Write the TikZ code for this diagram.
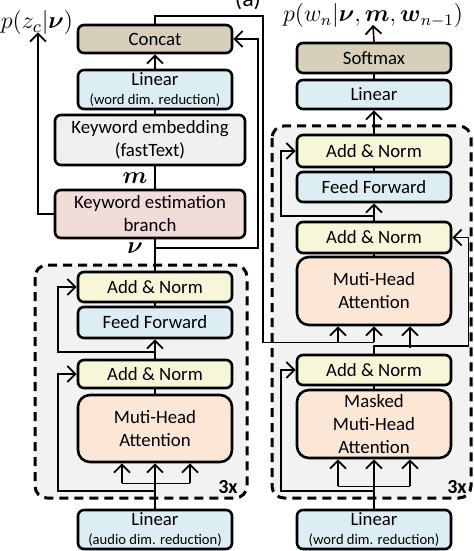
\documentclass[tikz,border=0pt]{standalone}
\usepackage{amsmath}
\usepackage{amssymb}
\usepackage{fontspec}
\setmainfont{Carlito}
\usepackage{tikz}
\usetikzlibrary{calc}
\usetikzlibrary{positioning}
\usetikzlibrary{arrows.meta}

\definecolor{ccat}{HTML}{D8CFBA}
\definecolor{clin}{HTML}{DCEEF4}
\definecolor{cgrey}{HTML}{F0F0F0}
\definecolor{cpink}{HTML}{F2DCDA}
\definecolor{cnorm}{HTML}{F8F6D9}
\definecolor{catt}{HTML}{FCE6D6}
\definecolor{cback}{HTML}{F2F2F2}

\newcommand{\dimtext}[1]{{\fontsize{7.3}{8}\selectfont #1}}

\begin{document}
\begin{tikzpicture}[x=0.5pt, y=-0.5pt,
        box/.style={rectangle, draw=black, line width=1.3pt, rounded corners=3pt, minimum width=77pt, align=center, inner sep=0pt, font=\fontsize{9.4}{11.5}\selectfont},
        arr/.style={-{Straight Barb[length=4pt, width=8pt, line width=0.9pt]}, line width=0.8pt},
        con/.style={line width=0.8pt},
        lbl/.style={inner sep=0pt},
        stack/.style={draw=black, line width=1.5pt, dash pattern=on 4.5pt off 3pt, rounded corners=6pt, fill=cback}]
        \useasboundingbox (0,0) rectangle (474,551);
        % dashed stacks
        \draw[stack] (35,265) rectangle (247,498);
        \draw[stack] (272,126) rectangle (471,498);
        \node[font=\bfseries] (nL) at (228,487) {3x};
        \node[font=\bfseries] (nR) at (457,487) {3x};

        % encoder side
        \node[box, fill=ccat, minimum height=14pt] (concat) at (155,39) {Concat};
        \node[box, fill=clin, minimum height=19.5pt] (linK) at (155,89.5) {Linear\\[-2pt]\dimtext{(word dim. reduction)}};
        \node[box, fill=cgrey, minimum width=95pt, minimum height=25pt] (kwemb) at (150,140) {Keyword embedding\\(fastText)};
        \node[box, fill=cpink, minimum width=95pt, minimum height=24pt] (kwest) at (150,214) {Keyword estimation\\branch};
        \node[box, fill=cnorm, minimum height=15pt] (anL1) at (155,287) {Add \& Norm};
        \node[box, fill=clin, minimum height=15.5pt] (ffL) at (155,322.5) {Feed Forward};
        \node[box, fill=cnorm, minimum height=14pt] (anL2) at (155,374) {Add \& Norm};
        \node[box, fill=catt, minimum height=33.5pt, rounded corners=6pt] (mhaL) at (155,428.5) {Muti-Head\\Attention};
        \node[box, fill=clin, minimum height=19.5pt] (linA) at (155,529.5) {Linear\\[-2pt]\dimtext{(audio dim. reduction)}};

        \node[lbl, font=\fontsize{12.8}{14}\selectfont] (pz) at (37,23) {$p(z_c|\boldsymbol{\nu})$};
        \node[lbl, font=\large] (lm) at (135,178) {$\boldsymbol{m}$};
        \node[lbl, font=\large] (lnu) at (135,248) {$\boldsymbol{\nu}$};
        \node[font=\large] (tag) at (248,-1) {(a)};

        % decoder side
        \node[lbl, font=\large] (pw) at (373,15.5) {$p(w_n|\boldsymbol{\nu},\boldsymbol{m},\boldsymbol{w}_{n-1})$};
        \node[box, fill=ccat, minimum height=15pt] (soft) at (374,58) {Softmax};
        \node[box, fill=clin, minimum height=14.5pt] (linR) at (374,94.5) {Linear};
        \node[box, fill=cnorm, minimum height=16pt] (anR1) at (374,151) {Add \& Norm};
        \node[box, fill=clin, minimum height=15pt] (ffR) at (374,187) {Feed Forward};
        \node[box, fill=cnorm, minimum height=15.5pt] (anR2) at (374,237.5) {Add \& Norm};
        \node[box, fill=catt, minimum height=34pt, rounded corners=6pt] (mhaR) at (374,291) {Muti-Head\\Attention};
        \node[box, fill=cnorm, minimum height=15pt] (anR3) at (374,370) {Add \& Norm};
        \node[box, fill=catt, minimum height=34pt, rounded corners=6pt] (mmhaR) at (374,424) {Masked\\Muti-Head\\Attention};
        \node[box, fill=clin, minimum height=19.5pt] (linW) at (374,529.5) {Linear\\[-2pt]\dimtext{(word dim. reduction)}};

        % encoder connectors
        \draw[arr] (linA.north) -- (mhaL.south);
        \draw[con] ($(mhaL.south)+(-33,20)$) -- ($(mhaL.south)+(35,20)$);
        \foreach \dx in {-33,35}
        {
            \draw[arr] ($(mhaL.south)+(\dx,20)$) -- ($(mhaL.south)+(\dx,0)$);
        }
        \draw[arr] ($(linA.north)+(0,-18)$) -| ($(anL2.west)+(-19,0)$) -- (anL2.west);
        \draw[con] (mhaL.north) -- (anL2.south);
        \draw[arr] (anL2.north) -- (ffL.south);
        \draw[arr] ($(anL2.north)+(0,-7)$) -| ($(anL1.west)+(-19,0)$) -- (anL1.west);
        \draw[con] (ffL.north) -- (anL1.south);
        \draw[con] (anL1.north) -- (anL1.north |- kwest.south);
        \draw[con] (concat |- kwest.north) -- (concat |- kwemb.south);
        \draw[con] (concat |- kwemb.north) -- (linK.south);
        \draw[arr] (linK.north) -- (concat.south);
        \draw[arr] (kwest.west) -| ($(pz.south)+(1,-3)$);
        \coordinate (nu) at (155,248);
        \draw[arr] (nu) -- (258,248) |- (concat.east);

        % decoder connectors
        \draw[arr] (linW.north) -- (mmhaR.south);
        \draw[con] ($(mmhaR.south)+(-36,27)$) -- ($(mmhaR.south)+(36,27)$);
        \foreach \dx in {-36,36}
        {
            \draw[arr] ($(mmhaR.south)+(\dx,27)$) -- ($(mmhaR.south)+(\dx,0)$);
        }
        \draw[arr] ($(linW.north)+(0,-18)$) -| ($(anR3.west)+(-15,0)$) -- (anR3.west);
        \draw[con] (mmhaR.north) -- (anR3.south);
        \draw[con] (concat.north) |- (263,16) |- ($(mhaR.south)+(0,16)$);
        \foreach \dx in {-36,0}
        {
            \draw[arr] ($(mhaR.south)+(\dx,16)$) -- ($(mhaR.south)+(\dx,0)$);
        }
        \draw[arr] (anR3.north) -- ++(0,-8) -| ($(anR2.east)+(16,0)$) -- (anR2.east);
        \draw[arr] ($(mhaR.south)+(36,22)$) -- ($(mhaR.south)+(36,0)$);
        \draw[con] (mhaR.north) -- (anR2.south);
        \draw[arr] (anR2.north) -- (ffR.south);
        \draw[arr] ($(anR2.north)+(0,-5)$) -| ($(anR1.west)+(-15,0)$) -- (anR1.west);
        \draw[con] (ffR.north) -- (anR1.south);
        \draw[arr] (anR1.north) -- (linR.south);
        \draw[con] (linR.north) -- (soft.south);
        \draw[arr] (soft.north) -- ($(pw.south)+(0,-3)$);
    \end{tikzpicture}
\end{document}
